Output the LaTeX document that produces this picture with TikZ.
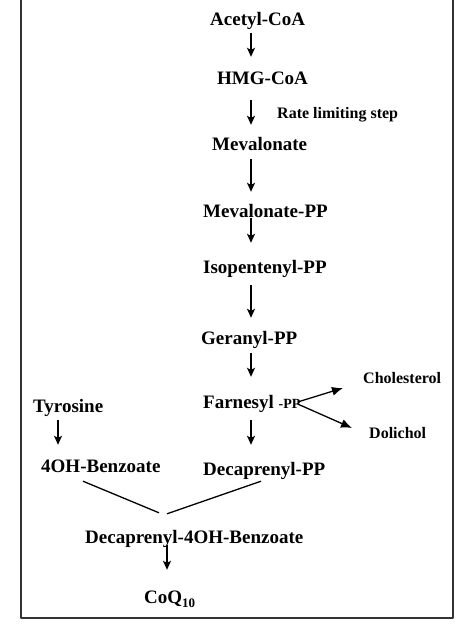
\documentclass[tikz,border=0pt]{standalone}
\usepackage{fontspec}
\setmainfont{Liberation Serif}
\usetikzlibrary{arrows.meta}
\begin{document}
\begin{tikzpicture}[x=1pt,y=-1pt,>={Stealth[length=9pt,width=8pt,inset=2pt]}, line join=round,
	lab/.style={anchor=base west,inner sep=0pt,text height=13pt,text depth=4pt,font=\fontsize{19}{22}\selectfont\bfseries},
	sm/.style={lab,font=\fontsize{16}{19}\selectfont\bfseries},
	arr/.style={->,line width=1.3pt},
	br/.style={-{Latex[length=11pt,width=9pt]},line width=1.3pt}]
	\def\xa{251} \def\xb{58} \def\xc{167}
	\useasboundingbox (0,0) rectangle (474,630);
	\draw[line width=1.5pt,black!80] (21,-5) rectangle (453,618);
	\coordinate (ca) at (\xa,0);
	\coordinate (cb) at (\xb,0);
	\coordinate (cc) at (\xc,0);
	% main chain
	\node[lab] (acetyl) at (210,25) {Acetyl-CoA};
	\node[lab] (hmg) at (217,84) {HMG-CoA};
	\node[sm] (rate) at (277,118) {Rate limiting step};
	\node[lab] (mev) at (212,150) {Mevalonate};
	\node[lab] (mevpp) at (203,217) {Mevalonate-PP};
	\node[lab] (ipp) at (203,273) {Isopentenyl-PP};
	\node[lab] (ger) at (201,344) {Geranyl-PP};
	\node[lab] (farn) at (203,408) {Farnesyl {\fontsize{14}{16}\selectfont -PP}};
	\node[sm] (chol) at (363,383) {Cholesterol};
	\node[sm] (doli) at (369,438) {Dolichol};
	\node[lab] (tyr) at (33,412) {Tyrosine};
	\node[lab] (benz) at (41,472) {4OH-Benzoate};
	\node[lab] (decpp) at (203,475) {Decaprenyl-PP};
	\node[lab] (dec4oh) at (85,543) {Decaprenyl-4OH-Benzoate};
	\node[lab] (coq) at (144,603) {CoQ\raisebox{-4pt}{\fontsize{13}{15}\selectfont 10}};
	% arrows
	\draw[arr,shorten <=4pt,shorten >=14pt] (acetyl.south -| ca) -- (hmg.north -| ca);
	\draw[arr,shorten <=12pt,shorten >=12pt] (hmg.south -| ca) -- (mev.north -| ca);
	\draw[arr,shorten <=5pt,shorten >=12pt] (mev.south -| ca) -- (mevpp.north -| ca);
	\draw[arr,shorten <=-3pt,shorten >=17pt] (mevpp.south -| ca) -- (ipp.north -| ca);
	\draw[arr,shorten <=8pt,shorten >=13pt] (ipp.south -| ca) -- (ger.north -| ca);
	\draw[arr,shorten <=5pt,shorten >=18pt] (ger.south -| ca) -- (farn.north -| ca);
	\draw[arr,shorten <=8pt,shorten >=17pt] (farn.south -| ca) -- (decpp.north -| ca);
	\draw[arr,shorten <=4pt,shorten >=14pt] (tyr.south -| cb) -- (benz.north -| cb);
	\draw[arr,shorten <=-2pt,shorten >=20pt] (dec4oh.south -| cc) -- (coq.north -| cc);
	% branches
	\draw[br] ([xshift=-3pt,yshift=1.5pt]farn.east) -- ([xshift=-20pt,yshift=-9.5pt]chol.west);
	\draw[br] ([xshift=-3pt,yshift=-0.5pt]farn.east) -- ([xshift=-17pt,yshift=5.5pt]doli.west);
	\draw[line width=1.3pt] ([xshift=42pt,yshift=-5pt]benz.south west) -- ([xshift=74pt,yshift=17pt]dec4oh.north west);
	\draw[line width=1.3pt] ([xshift=58pt,yshift=-2pt]decpp.south west) -- ([yshift=16pt]dec4oh.north -| cc);
\end{tikzpicture}
\end{document}
